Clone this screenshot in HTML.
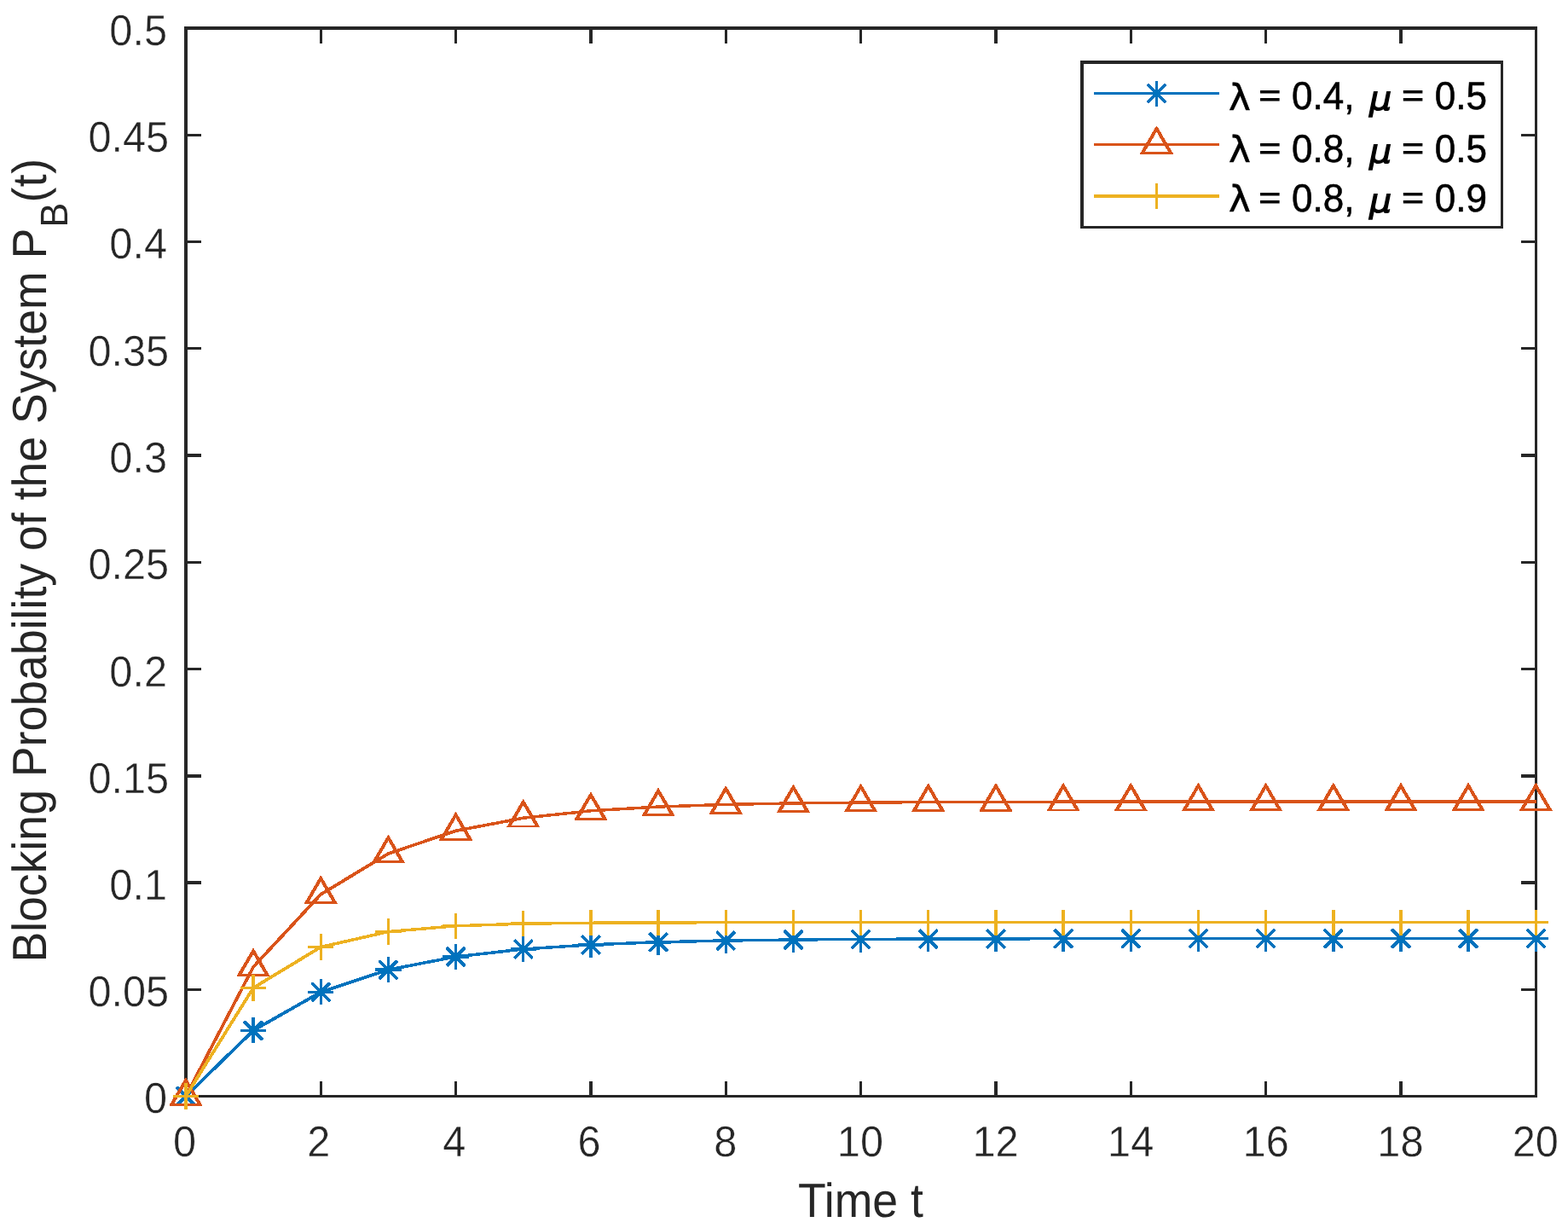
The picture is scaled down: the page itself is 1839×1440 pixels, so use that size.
<!DOCTYPE html>
<html lang="en"><head><meta charset="utf-8"><title>Blocking Probability of the System</title>
<style>html,body{margin:0;padding:0;background:#fff}svg{display:block}text{font-family:"Liberation Sans", sans-serif;text-rendering:geometricPrecision}text.gk{font-family:"DejaVu Sans","Liberation Sans",sans-serif}</style></head><body>
<svg width="1839" height="1440" viewBox="0 0 1839 1440">
<defs><clipPath id="ax"><rect x="216" y="31" width="1586.5" height="1256"/></clipPath></defs>
<rect width="1839" height="1440" fill="#fff"/>
<g fill="#262626" shape-rendering="crispEdges">
<rect x="216" y="31" width="1587" height="4"/>
<rect x="216" y="1284" width="1587" height="3"/>
<rect x="216" y="31" width="4" height="1256"/>
<rect x="1800" y="31" width="3" height="1256"/>
<rect x="375" y="1268" width="3" height="17"/>
<rect x="375" y="34" width="3" height="17"/>
<rect x="533" y="1268" width="3" height="17"/>
<rect x="533" y="34" width="3" height="17"/>
<rect x="691" y="1268" width="4" height="17"/>
<rect x="691" y="34" width="4" height="17"/>
<rect x="850" y="1268" width="3" height="17"/>
<rect x="850" y="34" width="3" height="17"/>
<rect x="1008" y="1268" width="3" height="17"/>
<rect x="1008" y="34" width="3" height="17"/>
<rect x="1166" y="1268" width="4" height="17"/>
<rect x="1166" y="34" width="4" height="17"/>
<rect x="1325" y="1268" width="3" height="17"/>
<rect x="1325" y="34" width="3" height="17"/>
<rect x="1483" y="1268" width="3" height="17"/>
<rect x="1483" y="34" width="3" height="17"/>
<rect x="1641" y="1268" width="4" height="17"/>
<rect x="1641" y="34" width="4" height="17"/>
<rect x="219" y="1159" width="17" height="3"/>
<rect x="1784" y="1159" width="17" height="3"/>
<rect x="219" y="1033" width="17" height="4"/>
<rect x="1784" y="1033" width="17" height="4"/>
<rect x="219" y="908" width="17" height="4"/>
<rect x="1784" y="908" width="17" height="4"/>
<rect x="219" y="783" width="17" height="3"/>
<rect x="1784" y="783" width="17" height="3"/>
<rect x="219" y="658" width="17" height="3"/>
<rect x="1784" y="658" width="17" height="3"/>
<rect x="219" y="532" width="17" height="4"/>
<rect x="1784" y="532" width="17" height="4"/>
<rect x="219" y="407" width="17" height="3"/>
<rect x="1784" y="407" width="17" height="3"/>
<rect x="219" y="282" width="17" height="3"/>
<rect x="1784" y="282" width="17" height="3"/>
<rect x="219" y="157" width="17" height="3"/>
<rect x="1784" y="157" width="17" height="3"/>
</g>
<g fill="#262626" font-size="48.7" stroke="#fff" stroke-width="0.4">
<text transform="translate(216.55 1356.3) scale(1 1.04)" text-anchor="middle">0</text>
<text transform="translate(373.75 1356.3) scale(1 1.04)" text-anchor="middle">2</text>
<text transform="translate(532.7 1356.3) scale(1 1.04)" text-anchor="middle">4</text>
<text transform="translate(691.1 1356.3) scale(1 1.04)" text-anchor="middle">6</text>
<text transform="translate(850.9 1356.3) scale(1 1.04)" text-anchor="middle">8</text>
<text transform="translate(1008.95 1356.3) scale(1 1.04)" text-anchor="middle">10</text>
<text transform="translate(1167.55 1356.3) scale(1 1.04)" text-anchor="middle">12</text>
<text transform="translate(1326.15 1356.3) scale(1 1.04)" text-anchor="middle">14</text>
<text transform="translate(1484.65 1356.3) scale(1 1.04)" text-anchor="middle">16</text>
<text transform="translate(1642.4 1356.3) scale(1 1.04)" text-anchor="middle">18</text>
<text transform="translate(1800.75 1356.3) scale(1 1.04)" text-anchor="middle">20</text>
<text transform="translate(196 1304.9) scale(1 1.04)" text-anchor="end">0</text>
<text transform="translate(198.2 1179.65) scale(1 1.04)" text-anchor="end">0.05</text>
<text transform="translate(196 1055.4) scale(1 1.04)" text-anchor="end">0.1</text>
<text transform="translate(198.2 930.15) scale(1 1.04)" text-anchor="end">0.15</text>
<text transform="translate(196 804.9) scale(1 1.04)" text-anchor="end">0.2</text>
<text transform="translate(198.2 678.95) scale(1 1.04)" text-anchor="end">0.25</text>
<text transform="translate(196 554.4) scale(1 1.04)" text-anchor="end">0.3</text>
<text transform="translate(198.2 429.15) scale(1 1.04)" text-anchor="end">0.35</text>
<text transform="translate(196 303.4) scale(1 1.04)" text-anchor="end">0.4</text>
<text transform="translate(198.2 177.65) scale(1 1.04)" text-anchor="end">0.45</text>
<text transform="translate(196 53.3) scale(1 1.04)" text-anchor="end">0.5</text>
</g>
<g fill="#262626" font-size="53.6">
<text transform="translate(1009.5 1426.8) scale(1 1.05)" text-anchor="middle">Time t</text>
<text transform="translate(54.2 1128.6) rotate(-90) scale(1 1.05)">Blocking Probability of the System P</text>
<text transform="translate(79.2 266.5) rotate(-90) scale(1 1.05)" font-size="43">B</text>
<text transform="translate(54.2 237.5) rotate(-90) scale(1 1.05)" letter-spacing="0.5">(t)</text>
</g>
<g fill="none" shape-rendering="crispEdges">
<path fill="#0072BD" fill-rule="nonzero" clip-path="url(#ax)" d="M216.34 1284.42L295.94 1206.81L296.94 1206.81L298.63 1208.55L298.63 1209.55L219.03 1287.16L218.03 1287.16L216.34 1285.42ZM295.71 1206.98L375.4 1161.69L376.4 1161.69L377.6 1163.81L377.6 1164.81L297.91 1210.09L296.91 1210.09L295.71 1207.98ZM375.07 1161.84L454.81 1135.44L455.81 1135.44L456.58 1137.74L456.58 1138.74L376.84 1165.15L375.84 1165.15L375.07 1162.84ZM454.39 1135.55L534.14 1120.16L535.14 1120.16L535.6 1122.54L535.6 1123.54L455.85 1138.93L454.85 1138.93L454.39 1136.55ZM533.65 1120.23L613.41 1111.26L614.41 1111.26L614.68 1113.68L614.68 1114.68L534.92 1123.65L533.92 1123.65L533.65 1121.23ZM612.87 1111.31L692.64 1106.08L693.64 1106.08L693.8 1108.51L693.8 1109.51L614.03 1114.74L613.03 1114.74L612.87 1112.31ZM692.07 1106.11L771.84 1103.07L772.84 1103.07L772.94 1105.5L772.94 1106.5L693.17 1109.54L692.17 1109.54L692.07 1107.11ZM771.26 1103.09L851.03 1101.31L852.03 1101.31L852.09 1103.74L852.09 1104.74L772.32 1106.51L771.32 1106.51L771.26 1104.09ZM850.44 1101.32L930.21 1100.29L931.21 1100.29L931.25 1102.72L931.25 1103.72L851.48 1104.75L850.48 1104.75L850.44 1102.32ZM929.62 1100.29L1009.39 1099.69L1010.39 1099.69L1010.41 1102.12L1010.41 1103.12L930.64 1103.72L929.64 1103.72L929.62 1101.29ZM1008.79 1099.69L1088.56 1099.34L1089.56 1099.34L1089.58 1101.77L1089.58 1102.77L1009.81 1103.12L1008.81 1103.12L1008.79 1100.69ZM1087.97 1099.34L1167.74 1099.14L1168.74 1099.14L1168.74 1102.57L1088.97 1102.77L1087.97 1102.77ZM1167.14 1099.14L1246.91 1099.02L1247.91 1099.02L1247.91 1102.45L1168.14 1102.57L1167.14 1102.57ZM1246.31 1099.02L1326.08 1098.95L1327.08 1098.95L1327.08 1102.38L1247.31 1102.45L1246.31 1102.45ZM1325.48 1098.95L1405.25 1098.91L1406.25 1098.91L1406.25 1102.34L1326.48 1102.38L1325.48 1102.38ZM1404.65 1098.91L1484.42 1098.89L1485.42 1098.89L1485.42 1102.32L1405.65 1102.34L1404.65 1102.34ZM1483.82 1098.89L1563.59 1098.87L1564.59 1098.87L1564.59 1102.3L1484.82 1102.32L1483.82 1102.32ZM1562.99 1098.88L1642.76 1098.87L1643.76 1098.87L1643.76 1102.3L1563.99 1102.31L1562.99 1102.31ZM1642.16 1098.87L1721.93 1098.86L1722.93 1098.86L1722.93 1102.29L1643.16 1102.3L1642.16 1102.3ZM1721.33 1098.86L1802.1 1098.86L1802.1 1102.29L1721.33 1102.29Z"/>
<path fill="#0072BD" d="M216 1270H220V1301H216ZM203 1284H233V1287H203Z"/><path fill="#0072BD" d="M206.22 1275.62L207.94 1273.9L208.94 1273.9L229.58 1294.54L229.58 1295.54L227.86 1297.26L226.86 1297.26L206.22 1276.62ZM206.22 1294.54L226.86 1273.9L227.86 1273.9L229.58 1275.62L229.58 1276.62L208.94 1297.26L207.94 1297.26L206.22 1295.54Z"/>
<path fill="#0072BD" d="M295 1193H299V1223H295ZM282 1207H312V1210H282Z"/><path fill="#0072BD" d="M285.39 1198.42L287.11 1196.7L288.11 1196.7L308.75 1217.35L308.75 1218.35L307.03 1220.07L306.03 1220.07L285.39 1199.42ZM285.39 1217.35L306.03 1196.7L307.03 1196.7L308.75 1198.42L308.75 1199.42L288.11 1220.07L287.11 1220.07L285.39 1218.35Z"/>
<path fill="#0072BD" d="M375 1148H378V1178H375ZM361 1162H391V1165H361Z"/><path fill="#0072BD" d="M364.56 1153.43L366.28 1151.72L367.28 1151.72L387.92 1172.36L387.92 1173.36L386.2 1175.08L385.2 1175.08L364.56 1154.43ZM364.56 1172.36L385.2 1151.72L386.2 1151.72L387.92 1153.43L387.92 1154.43L367.28 1175.08L366.28 1175.08L364.56 1173.36Z"/>
<path fill="#0072BD" d="M454 1122H457V1152H454ZM440 1135H471V1139H440Z"/><path fill="#0072BD" d="M443.73 1127.22L445.45 1125.5L446.45 1125.5L467.09 1146.15L467.09 1147.15L465.37 1148.87L464.37 1148.87L443.73 1128.22ZM443.73 1146.15L464.37 1125.5L465.37 1125.5L467.09 1127.22L467.09 1128.22L446.45 1148.87L445.45 1148.87L443.73 1147.15Z"/>
<path fill="#0072BD" d="M533 1107H536V1137H533ZM519 1120H550V1124H519Z"/><path fill="#0072BD" d="M522.9 1111.94L524.62 1110.22L525.62 1110.22L546.26 1130.87L546.26 1131.87L544.54 1133.59L543.54 1133.59L522.9 1112.94ZM522.9 1130.87L543.54 1110.22L544.54 1110.22L546.26 1111.94L546.26 1112.94L525.62 1133.59L524.62 1133.59L522.9 1131.87Z"/>
<path fill="#0072BD" d="M612 1098H615V1128H612ZM599 1111H629V1115H599Z"/><path fill="#0072BD" d="M602.07 1103.04L603.79 1101.32L604.79 1101.32L625.43 1121.97L625.43 1122.97L623.71 1124.69L622.71 1124.69L602.07 1104.04ZM602.07 1121.97L622.71 1101.32L623.71 1101.32L625.43 1103.04L625.43 1104.04L604.79 1124.69L603.79 1124.69L602.07 1122.97Z"/>
<path fill="#0072BD" d="M691 1093H695V1123H691ZM678 1106H708V1110H678Z"/><path fill="#0072BD" d="M681.24 1097.85L682.96 1096.13L683.96 1096.13L704.6 1116.78L704.6 1117.78L702.88 1119.5L701.88 1119.5L681.24 1098.85ZM681.24 1116.78L701.88 1096.13L702.88 1096.13L704.6 1097.85L704.6 1098.85L683.96 1119.5L682.96 1119.5L681.24 1117.78Z"/>
<path fill="#0072BD" d="M770 1090H774V1120H770ZM757 1103H787V1107H757Z"/><path fill="#0072BD" d="M760.41 1094.83L762.13 1093.11L763.13 1093.11L783.77 1113.76L783.77 1114.76L782.05 1116.48L781.05 1116.48L760.41 1095.83ZM760.41 1113.76L781.05 1093.11L782.05 1093.11L783.77 1094.83L783.77 1095.83L763.13 1116.48L762.13 1116.48L760.41 1114.76Z"/>
<path fill="#0072BD" d="M850 1088H853V1118H850ZM836 1101H866V1105H836Z"/><path fill="#0072BD" d="M839.58 1093.07L841.3 1091.35L842.3 1091.35L862.94 1112L862.94 1113L861.22 1114.71L860.22 1114.71L839.58 1094.07ZM839.58 1112L860.22 1091.35L861.22 1091.35L862.94 1093.07L862.94 1094.07L842.3 1114.71L841.3 1114.71L839.58 1113Z"/>
<path fill="#0072BD" d="M929 1087H932V1117H929ZM915 1100H946V1104H915Z"/><path fill="#0072BD" d="M918.75 1092.04L920.47 1090.32L921.47 1090.32L942.11 1110.97L942.11 1111.97L940.39 1113.69L939.39 1113.69L918.75 1093.04ZM918.75 1110.97L939.39 1090.32L940.39 1090.32L942.11 1092.04L942.11 1093.04L921.47 1113.69L920.47 1113.69L918.75 1111.97Z"/>
<path fill="#0072BD" d="M1008 1086H1011V1117H1008ZM995 1100H1025V1103H995Z"/><path fill="#0072BD" d="M997.92 1091.44L999.64 1089.72L1000.64 1089.72L1021.28 1110.37L1021.28 1111.37L1019.56 1113.09L1018.56 1113.09L997.92 1092.44ZM997.92 1110.37L1018.56 1089.72L1019.56 1089.72L1021.28 1091.44L1021.28 1092.44L1000.64 1113.09L999.64 1113.09L997.92 1111.37Z"/>
<path fill="#0072BD" d="M1087 1086H1090V1116H1087ZM1074 1099H1104V1103H1074Z"/><path fill="#0072BD" d="M1077.09 1091.09L1078.81 1089.38L1079.81 1089.38L1100.45 1110.02L1100.45 1111.02L1098.73 1112.74L1097.73 1112.74L1077.09 1092.09ZM1077.09 1110.02L1097.73 1089.38L1098.73 1089.38L1100.45 1091.09L1100.45 1092.09L1079.81 1112.74L1078.81 1112.74L1077.09 1111.02Z"/>
<path fill="#0072BD" d="M1166 1086H1170V1116H1166ZM1153 1099H1183V1103H1153Z"/><path fill="#0072BD" d="M1156.26 1090.89L1157.98 1089.17L1158.98 1089.17L1179.62 1109.82L1179.62 1110.82L1177.9 1112.54L1176.9 1112.54L1156.26 1091.89ZM1156.26 1109.82L1176.9 1089.17L1177.9 1089.17L1179.62 1090.89L1179.62 1091.89L1158.98 1112.54L1157.98 1112.54L1156.26 1110.82Z"/>
<path fill="#0072BD" d="M1245 1086H1249V1116H1245ZM1232 1099H1262V1102H1232Z"/><path fill="#0072BD" d="M1235.43 1090.77L1237.15 1089.05L1238.15 1089.05L1258.79 1109.7L1258.79 1110.7L1257.07 1112.42L1256.07 1112.42L1235.43 1091.77ZM1235.43 1109.7L1256.07 1089.05L1257.07 1089.05L1258.79 1090.77L1258.79 1091.77L1238.15 1112.42L1237.15 1112.42L1235.43 1110.7Z"/>
<path fill="#0072BD" d="M1325 1086H1328V1116H1325ZM1311 1099H1341V1102H1311Z"/><path fill="#0072BD" d="M1314.6 1090.7L1316.32 1088.98L1317.32 1088.98L1337.96 1109.63L1337.96 1110.63L1336.24 1112.35L1335.24 1112.35L1314.6 1091.7ZM1314.6 1109.63L1335.24 1088.98L1336.24 1088.98L1337.96 1090.7L1337.96 1091.7L1317.32 1112.35L1316.32 1112.35L1314.6 1110.63Z"/>
<path fill="#0072BD" d="M1404 1086H1407V1116H1404ZM1390 1099H1421V1102H1390Z"/><path fill="#0072BD" d="M1393.77 1090.66L1395.49 1088.94L1396.49 1088.94L1417.13 1109.59L1417.13 1110.59L1415.41 1112.31L1414.41 1112.31L1393.77 1091.66ZM1393.77 1109.59L1414.41 1088.94L1415.41 1088.94L1417.13 1090.66L1417.13 1091.66L1396.49 1112.31L1395.49 1112.31L1393.77 1110.59Z"/>
<path fill="#0072BD" d="M1483 1086H1486V1116H1483ZM1470 1099H1500V1102H1470Z"/><path fill="#0072BD" d="M1472.94 1090.64L1474.66 1088.92L1475.66 1088.92L1496.3 1109.57L1496.3 1110.57L1494.58 1112.29L1493.58 1112.29L1472.94 1091.64ZM1472.94 1109.57L1493.58 1088.92L1494.58 1088.92L1496.3 1090.64L1496.3 1091.64L1475.66 1112.29L1474.66 1112.29L1472.94 1110.57Z"/>
<path fill="#0072BD" d="M1562 1085H1566V1116H1562ZM1549 1099H1579V1102H1549Z"/><path fill="#0072BD" d="M1552.11 1090.63L1553.83 1088.91L1554.83 1088.91L1575.47 1109.55L1575.47 1110.55L1573.75 1112.27L1572.75 1112.27L1552.11 1091.63ZM1552.11 1109.55L1572.75 1088.91L1573.75 1088.91L1575.47 1090.63L1575.47 1091.63L1554.83 1112.27L1553.83 1112.27L1552.11 1110.55Z"/>
<path fill="#0072BD" d="M1641 1085H1645V1116H1641ZM1628 1099H1658V1102H1628Z"/><path fill="#0072BD" d="M1631.28 1090.62L1633 1088.9L1634 1088.9L1654.64 1109.55L1654.64 1110.55L1652.92 1112.26L1651.92 1112.26L1631.28 1091.62ZM1631.28 1109.55L1651.92 1088.9L1652.92 1088.9L1654.64 1090.62L1654.64 1091.62L1634 1112.26L1633 1112.26L1631.28 1110.55Z"/>
<path fill="#0072BD" d="M1720 1085H1724V1116H1720ZM1707 1099H1737V1102H1707Z"/><path fill="#0072BD" d="M1710.45 1090.61L1712.17 1088.89L1713.17 1088.89L1733.81 1109.54L1733.81 1110.54L1732.09 1112.26L1731.09 1112.26L1710.45 1091.61ZM1710.45 1109.54L1731.09 1088.89L1732.09 1088.89L1733.81 1090.61L1733.81 1091.61L1713.17 1112.26L1712.17 1112.26L1710.45 1110.54Z"/>
<path fill="#0072BD" d="M1800 1085H1803V1116H1800ZM1786 1099H1816V1102H1786Z"/><path fill="#0072BD" d="M1789.62 1090.61L1791.34 1088.89L1792.34 1088.89L1812.98 1109.54L1812.98 1110.54L1811.26 1112.26L1810.26 1112.26L1789.62 1091.61ZM1789.62 1109.54L1810.26 1088.89L1811.26 1088.89L1812.98 1090.61L1812.98 1091.61L1792.34 1112.26L1791.34 1112.26L1789.62 1110.54Z"/>
</g>
<g fill="none" shape-rendering="crispEdges">
<path fill="#D95319" fill-rule="nonzero" clip-path="url(#ax)" d="M216.18 1284.78L295.63 1132.55L296.63 1132.55L298.79 1133.68L298.79 1134.68L219.34 1286.91L218.34 1286.91L216.18 1285.78ZM295.48 1132.77L375.05 1047.23L376.05 1047.23L377.83 1048.89L377.83 1049.89L298.26 1135.43L297.26 1135.43L295.48 1133.77ZM374.86 1047.39L454.54 999.34L455.54 999.34L456.79 1001.42L456.79 1002.42L377.11 1050.47L376.11 1050.47L374.86 1048.39ZM454.24 999.48L533.97 972.5L534.97 972.5L535.75 974.8L535.75 975.8L456.02 1002.78L455.02 1002.78L454.24 1000.48ZM533.56 972.61L613.32 957.47L614.32 957.47L614.77 959.86L614.77 960.86L535.01 976L534.01 976L533.56 973.61ZM612.82 957.54L692.59 949.05L693.59 949.05L693.85 951.46L693.85 952.46L614.08 960.96L613.08 960.96L612.82 958.54ZM692.05 949.09L771.82 944.33L772.82 944.33L772.96 946.75L772.96 947.75L693.19 952.52L692.19 952.52L692.05 950.09ZM771.25 944.35L851.02 941.68L852.02 941.68L852.1 944.11L852.1 945.11L772.33 947.78L771.33 947.78L771.25 945.35ZM850.44 941.69L930.21 940.19L931.21 940.19L931.25 942.62L931.25 943.62L851.48 945.12L850.48 945.12L850.44 942.69ZM929.62 940.2L1009.39 939.36L1010.39 939.36L1010.41 941.79L1010.41 942.79L930.64 943.63L929.64 943.63L929.62 941.2ZM1008.79 939.37L1088.56 938.89L1089.56 938.89L1089.58 941.32L1089.58 942.32L1009.81 942.8L1008.81 942.8L1008.79 940.37ZM1087.97 938.9L1167.74 938.63L1168.74 938.63L1168.74 942.06L1088.97 942.33L1087.97 942.33ZM1167.14 938.63L1246.91 938.49L1247.91 938.49L1247.91 941.92L1168.14 942.06L1167.14 942.06ZM1246.31 938.49L1326.08 938.4L1327.08 938.4L1327.08 941.83L1247.31 941.92L1246.31 941.92ZM1325.48 938.4L1405.25 938.36L1406.25 938.36L1406.25 941.79L1326.48 941.83L1325.48 941.83ZM1404.65 938.36L1484.42 938.33L1485.42 938.33L1485.42 941.76L1405.65 941.79L1404.65 941.79ZM1483.82 938.33L1563.59 938.32L1564.59 938.32L1564.59 941.75L1484.82 941.76L1483.82 941.76ZM1562.99 938.32L1642.76 938.31L1643.76 938.31L1643.76 941.74L1563.99 941.75L1562.99 941.75ZM1642.16 938.31L1721.93 938.3L1722.93 938.3L1722.93 941.73L1643.16 941.74L1642.16 941.74ZM1721.33 938.3L1802.1 938.3L1802.1 941.73L1721.33 941.73Z"/>
<path fill="#D95319" fill-rule="evenodd" d="M217.4 1263.78H218.4L237.2 1295.83V1296.83H198.6V1295.83ZM217.9 1270.68L231.4 1293.98H204.4Z"/>
<path fill="#D95319" fill-rule="evenodd" d="M296.57 1112.08H297.57L316.37 1144.13V1145.13H277.77V1144.13ZM297.07 1118.98L310.57 1142.28H283.57Z"/>
<path fill="#D95319" fill-rule="evenodd" d="M375.74 1026.98H376.74L395.54 1059.03V1060.03H356.94V1059.03ZM376.24 1033.88L389.74 1057.18H362.74Z"/>
<path fill="#D95319" fill-rule="evenodd" d="M454.91 979.23H455.91L474.71 1011.28V1012.28H436.11V1011.28ZM455.41 986.13L468.91 1009.43H441.91Z"/>
<path fill="#D95319" fill-rule="evenodd" d="M534.08 952.45H535.08L553.88 984.5V985.5H515.28V984.5ZM534.58 959.35L548.08 982.65H521.08Z"/>
<path fill="#D95319" fill-rule="evenodd" d="M613.25 937.42H614.25L633.05 969.47V970.47H594.45V969.47ZM613.75 944.32L627.25 967.62H600.25Z"/>
<path fill="#D95319" fill-rule="evenodd" d="M692.42 928.99H693.42L712.22 961.04V962.04H673.62V961.04ZM692.92 935.89L706.42 959.19H679.42Z"/>
<path fill="#D95319" fill-rule="evenodd" d="M771.59 924.26H772.59L791.39 956.31V957.31H752.79V956.31ZM772.09 931.16L785.59 954.46H758.59Z"/>
<path fill="#D95319" fill-rule="evenodd" d="M850.76 921.6H851.76L870.56 953.65V954.65H831.96V953.65ZM851.26 928.5L864.76 951.8H837.76Z"/>
<path fill="#D95319" fill-rule="evenodd" d="M929.93 920.12H930.93L949.73 952.17V953.17H911.13V952.17ZM930.43 927.02L943.93 950.32H916.93Z"/>
<path fill="#D95319" fill-rule="evenodd" d="M1009.1 919.28H1010.1L1028.9 951.33V952.33H990.3V951.33ZM1009.6 926.18L1023.1 949.48H996.1Z"/>
<path fill="#D95319" fill-rule="evenodd" d="M1088.27 918.81H1089.27L1108.07 950.86V951.86H1069.47V950.86ZM1088.77 925.71L1102.27 949.01H1075.27Z"/>
<path fill="#D95319" fill-rule="evenodd" d="M1167.44 918.55H1168.44L1187.24 950.6V951.6H1148.64V950.6ZM1167.94 925.45L1181.44 948.75H1154.44Z"/>
<path fill="#D95319" fill-rule="evenodd" d="M1246.61 918.4H1247.61L1266.41 950.45V951.45H1227.81V950.45ZM1247.11 925.3L1260.61 948.6H1233.61Z"/>
<path fill="#D95319" fill-rule="evenodd" d="M1325.78 918.32H1326.78L1345.58 950.37V951.37H1306.98V950.37ZM1326.28 925.22L1339.78 948.52H1312.78Z"/>
<path fill="#D95319" fill-rule="evenodd" d="M1404.95 918.27H1405.95L1424.75 950.32V951.32H1386.15V950.32ZM1405.45 925.17L1418.95 948.47H1391.95Z"/>
<path fill="#D95319" fill-rule="evenodd" d="M1484.12 918.25H1485.12L1503.92 950.3V951.3H1465.32V950.3ZM1484.62 925.15L1498.12 948.45H1471.12Z"/>
<path fill="#D95319" fill-rule="evenodd" d="M1563.29 918.23H1564.29L1583.09 950.28V951.28H1544.49V950.28ZM1563.79 925.13L1577.29 948.43H1550.29Z"/>
<path fill="#D95319" fill-rule="evenodd" d="M1642.46 918.22H1643.46L1662.26 950.27V951.27H1623.66V950.27ZM1642.96 925.12L1656.46 948.42H1629.46Z"/>
<path fill="#D95319" fill-rule="evenodd" d="M1721.63 918.22H1722.63L1741.43 950.27V951.27H1702.83V950.27ZM1722.13 925.12L1735.63 948.42H1708.63Z"/>
<path fill="#D95319" fill-rule="evenodd" d="M1800.8 918.22H1801.8L1820.6 950.27V951.27H1782V950.27ZM1801.3 925.12L1814.8 948.42H1787.8Z"/>
</g>
<g fill="none" shape-rendering="crispEdges">
<path fill="#EDB120" fill-rule="nonzero" clip-path="url(#ax)" d="M216.21 1284.69L295.7 1157.02L296.7 1157.02L298.76 1158.31L298.76 1159.31L219.27 1286.98L218.27 1286.98L216.21 1285.69ZM295.68 1157.04L375.37 1108.86L376.37 1108.86L377.63 1110.94L377.63 1111.94L297.94 1160.12L296.94 1160.12L295.68 1158.04ZM375.18 1108.94L454.93 1090.78L455.93 1090.78L456.47 1093.15L456.47 1094.15L376.72 1112.31L375.72 1112.31L375.18 1109.94ZM454.51 1090.85L534.28 1084.02L535.28 1084.02L535.48 1086.44L535.48 1087.44L455.71 1094.27L454.71 1094.27L454.51 1091.85ZM533.74 1084.05L613.51 1081.47L614.51 1081.47L614.59 1083.9L614.59 1084.9L534.82 1087.48L533.82 1087.48L533.74 1085.05ZM612.94 1081.49L692.71 1080.52L693.71 1080.52L693.73 1082.95L693.73 1083.95L613.96 1084.92L612.96 1084.92L612.94 1082.49ZM692.11 1080.52L771.88 1080.16L772.88 1080.16L772.9 1082.59L772.9 1083.59L693.13 1083.95L692.13 1083.95L692.11 1081.52ZM771.29 1080.16L851.06 1080.02L852.06 1080.02L852.06 1083.45L772.29 1083.59L771.29 1083.59ZM850.46 1080.02L930.23 1079.97L931.23 1079.97L931.23 1083.4L851.46 1083.45L850.46 1083.45ZM929.63 1079.97L1009.4 1079.95L1010.4 1079.95L1010.4 1083.38L930.63 1083.4L929.63 1083.4ZM1008.8 1079.95L1089.57 1079.95L1089.57 1083.38L1008.8 1083.38ZM1087.97 1079.95L1167.74 1079.94L1168.74 1079.94L1168.74 1083.37L1088.97 1083.38L1087.97 1083.38ZM1167.14 1079.94L1247.91 1079.94L1247.91 1083.37L1167.14 1083.37ZM1246.31 1079.94L1327.08 1079.94L1327.08 1083.37L1246.31 1083.37ZM1325.48 1079.94L1406.25 1079.94L1406.25 1083.37L1325.48 1083.37ZM1404.65 1079.94L1485.42 1079.94L1485.42 1083.37L1404.65 1083.37ZM1483.82 1079.94L1564.59 1079.94L1564.59 1083.37L1483.82 1083.37ZM1562.99 1079.94L1643.76 1079.94L1643.76 1083.37L1562.99 1083.37ZM1642.16 1079.94L1722.93 1079.94L1722.93 1083.37L1642.16 1083.37ZM1721.33 1079.94L1802.1 1079.94L1802.1 1083.37L1721.33 1083.37Z"/>
<path fill="#EDB120" d="M216 1270H220V1301H216ZM203 1284H233V1287H203Z"/>
<path fill="#EDB120" d="M295 1143H299V1174H295ZM282 1157H312V1160H282Z"/>
<path fill="#EDB120" d="M375 1095H378V1126H375ZM361 1109H391V1112H361Z"/>
<path fill="#EDB120" d="M454 1077H457V1108H454ZM440 1091H471V1094H440Z"/>
<path fill="#EDB120" d="M533 1071H536V1101H533ZM519 1084H550V1087H519Z"/>
<path fill="#EDB120" d="M612 1068H615V1098H612ZM599 1081H629V1085H599Z"/>
<path fill="#EDB120" d="M691 1067H695V1097H691ZM678 1081H708V1084H678Z"/>
<path fill="#EDB120" d="M770 1067H774V1097H770ZM757 1080H787V1084H757Z"/>
<path fill="#EDB120" d="M850 1067H853V1097H850ZM836 1080H866V1083H836Z"/>
<path fill="#EDB120" d="M929 1067H932V1097H929ZM915 1080H946V1083H915Z"/>
<path fill="#EDB120" d="M1008 1067H1011V1097H1008ZM995 1080H1025V1083H995Z"/>
<path fill="#EDB120" d="M1087 1067H1090V1097H1087ZM1074 1080H1104V1083H1074Z"/>
<path fill="#EDB120" d="M1166 1067H1170V1097H1166ZM1153 1080H1183V1083H1153Z"/>
<path fill="#EDB120" d="M1245 1067H1249V1097H1245ZM1232 1080H1262V1083H1232Z"/>
<path fill="#EDB120" d="M1325 1067H1328V1097H1325ZM1311 1080H1341V1083H1311Z"/>
<path fill="#EDB120" d="M1404 1067H1407V1097H1404ZM1390 1080H1421V1083H1390Z"/>
<path fill="#EDB120" d="M1483 1067H1486V1097H1483ZM1470 1080H1500V1083H1470Z"/>
<path fill="#EDB120" d="M1562 1067H1566V1097H1562ZM1549 1080H1579V1083H1549Z"/>
<path fill="#EDB120" d="M1641 1067H1645V1097H1641ZM1628 1080H1658V1083H1628Z"/>
<path fill="#EDB120" d="M1720 1067H1724V1097H1720ZM1707 1080H1737V1083H1707Z"/>
<path fill="#EDB120" d="M1800 1067H1803V1097H1800ZM1786 1080H1816V1083H1786Z"/>
</g>
<g>
<rect x="1269" y="73" width="492.5" height="193.5" fill="#fff"/>
<g fill="#262626" shape-rendering="crispEdges">
<rect x="1267" y="71" width="496" height="4"/>
<rect x="1267" y="71" width="4" height="197"/>
<rect x="1760" y="71" width="3" height="197"/>
<rect x="1267" y="265" width="496" height="3"/>
</g>
<g fill="none" shape-rendering="crispEdges">
<rect x="1283" y="108" width="147" height="3" fill="#0072BD"/>
<path fill="#0072BD" d="M1355 95H1358V125H1355ZM1341 108H1372V111H1341Z"/><path fill="#0072BD" d="M1344.82 99.74L1346.54 98.02L1347.54 98.02L1368.18 118.66L1368.18 119.66L1366.46 121.38L1365.46 121.38L1344.82 100.74ZM1344.82 118.66L1365.46 98.02L1366.46 98.02L1368.18 99.74L1368.18 100.74L1347.54 121.38L1346.54 121.38L1344.82 119.66Z"/>
</g>
<g fill="#000" stroke="#000" stroke-width="0.6" font-size="44">
<text transform="translate(1441 128.8) scale(1.03 1)" class="gk" font-size="42.3">λ</text>
<text transform="translate(1476.4 124.3) scale(1 0.81)" stroke-width="1.2">=</text>
<text transform="translate(1515 128.2) scale(1 1.04)">0.4,</text>
<text transform="translate(1605.9 129.2) scale(1.1 1.04)" class="gk" font-style="italic" font-size="37.5" stroke-width="1.1">μ</text>
<text transform="translate(1644.3 124.3) scale(1 0.81)" stroke-width="1.2">=</text>
<text transform="translate(1682.8 128.2) scale(1 1.04)">0.5</text>
</g>
<g fill="none" shape-rendering="crispEdges">
<rect x="1283" y="168" width="147" height="3" fill="#D95319"/>
<path fill="#D95319" fill-rule="evenodd" d="M1356 147.8H1357L1375.8 179.85V180.85H1337.2V179.85ZM1356.5 154.7L1370 178H1343Z"/>
</g>
<g fill="#000" stroke="#000" stroke-width="0.6" font-size="44">
<text transform="translate(1441 190.1) scale(1.03 1)" class="gk" font-size="42.3">λ</text>
<text transform="translate(1476.4 185.6) scale(1 0.81)" stroke-width="1.2">=</text>
<text transform="translate(1515 189.5) scale(1 1.04)">0.8,</text>
<text transform="translate(1605.9 190.5) scale(1.1 1.04)" class="gk" font-style="italic" font-size="37.5" stroke-width="1.1">μ</text>
<text transform="translate(1644.3 185.6) scale(1 0.81)" stroke-width="1.2">=</text>
<text transform="translate(1682.8 189.5) scale(1 1.04)">0.5</text>
</g>
<g fill="none" shape-rendering="crispEdges">
<rect x="1283" y="228" width="147" height="4" fill="#EDB120"/>
<path fill="#EDB120" d="M1355 215H1358V245H1355ZM1341 228H1372V232H1341Z"/>
</g>
<g fill="#000" stroke="#000" stroke-width="0.6" font-size="44">
<text transform="translate(1441 248.4) scale(1.03 1)" class="gk" font-size="42.3">λ</text>
<text transform="translate(1476.4 243.9) scale(1 0.81)" stroke-width="1.2">=</text>
<text transform="translate(1515 247.8) scale(1 1.04)">0.8,</text>
<text transform="translate(1605.9 248.8) scale(1.1 1.04)" class="gk" font-style="italic" font-size="37.5" stroke-width="1.1">μ</text>
<text transform="translate(1644.3 243.9) scale(1 0.81)" stroke-width="1.2">=</text>
<text transform="translate(1682.8 247.8) scale(1 1.04)">0.9</text>
</g>
</g>
</svg></body></html>
